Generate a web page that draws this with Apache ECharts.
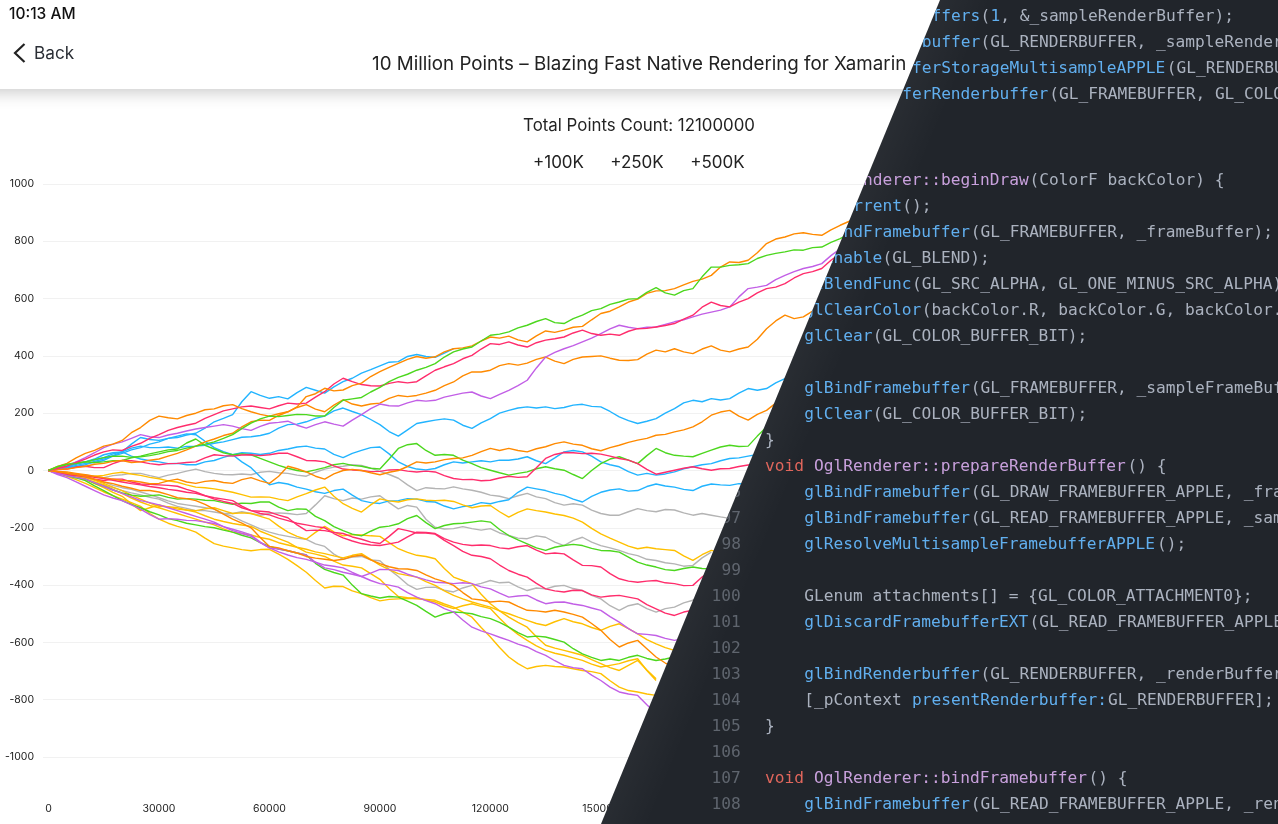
<!DOCTYPE html>
<html><head><meta charset="utf-8">
<style>html,body{margin:0;padding:0;background:#fff}#c{width:1278px;height:824px}</style>
<script src="https://cdn.jsdelivr.net/npm/echarts@6/dist/echarts.min.js"></script>
</head><body><div id="c"></div>
<script>
const xValues = [0,2500,5000,7500,10000,12500,15000,17500,20000,22500,25000,27500,30000,32500,35000,37500,40000,42500,45000,47500,50000,52500,55000,57500,60000,62500,65000,67500,70000,72500,75000,77500,80000,82500,85000,87500,90000,92500,95000,97500,100000,102500,105000,107500,110000,112500,115000,117500,120000,122500,125000,127500,130000,132500,135000,137500,140000,142500,145000,147500,150000,152500,155000,157500,160000,162500,165000,167500,170000,172500,175000,177500,180000,182500,185000,187500,190000,192500,195000,197500,200000,202500,205000,207500,210000,212500,215000,217500,220000];
const xTickLabels = [0,30000,60000,90000,120000,150000];

const blueTop = [0,6,10,14,20,32,40,52,65,92,115,108,105,112,115,124,130,148,170,182,195,240,275,262,252,258,250,272,290,280,270,292,310,322,340,352,365,378,380,398,405,398,395,410,425];
const blueUp = [0,8,12,22,30,40,55,62,65,78,85,80,80,82,78,84,85,88,95,100,108,116,118,122,130,148,160,162,170,182,190,208,218,206,195,178,160,136,120,142,164,170,176,180,176,158,147,166,181,200,210,218,222,218,222,216,220,228,231,224,222,206,187,174,164,172,181,200,216,236,245,240,251,246,251,270,286,280,286,306,321,328,338,350,360];
const blueMid = [0,10,15,24,30,36,45,58,65,50,40,34,30,24,25,20,20,30,35,46,55,62,60,56,60,70,75,82,85,78,75,56,45,60,70,80,82,58,30,14,5,2,7,20,30,26,30,34,30,36,36,40,48,34,24,44,65,70,65,50,30,20,13,-4,-16,-10,-16,-12,-5,6,13,20,24,34,42,44,50,56,59,66,71];
const blueLow = [0,6,10,18,25,28,35,50,60,72,80,92,100,112,120,128,125,102,80,66,55,30,10,-22,-50,-42,-47,-58,-65,-74,-80,-70,-65,-86,-105,-112,-115,-106,-105,-98,-100,-108,-110,-124,-134,-126,-122,-112,-116,-108,-102,-76,-58,-64,-70,-80,-87,-100,-110,-90,-76,-68,-64,-72,-70,-56,-47,-54,-58,-66,-70,-55,-47,-50,-52,-46,-47];
const gray1 = [0,-6,-10,-14,-15,-22,-25,-18,-15,-10,-10,-18,-25,-16,-10,-2,5,-4,-10,-14,-15,-12,-15,-6,-3,-8,-10,-16,-20,-6,5,12,15,20,18,8,-3,-14,-27,-50,-70,-60,-63,-64,-57,-64,-69,-76,-86,-90,-98,-88,-80,-92,-98,-112,-121,-116,-121,-138,-150,-156,-156,-144,-133,-140,-144,-136,-138,-148,-156,-150,-156,-162,-167,-160,-160];
const gray2 = [0,-8,-15,-22,-30,-42,-50,-60,-70,-78,-85,-94,-100,-114,-125,-132,-140,-140,-145,-150,-150,-144,-150,-156,-150,-148,-150,-154,-150,-120,-88,-98,-105,-96,-100,-92,-88,-112,-134,-122,-128,-170,-198,-204,-203,-196,-203,-208,-203,-218,-227,-236,-238,-228,-233,-250,-262,-244,-233,-250,-262,-270,-279,-290,-297,-310,-314,-322,-326,-334,-331,-305,-285];
const gray3 = [0,-6,-12,-20,-25,-32,-40,-52,-60,-66,-75,-84,-95,-106,-115,-120,-125,-130,-135,-150,-160,-176,-190,-204,-215,-224,-230,-236,-240,-256,-265,-292,-310,-302,-300,-312,-315,-345,-370,-398,-415,-408,-407,-418,-424,-410,-401,-394,-384,-392,-390,-406,-419,-410,-413,-404,-401,-412,-419,-436,-448,-472,-488,-472,-465,-482,-494,-482,-477,-462,-453,-428,-407];
const orangeTop = [0,14,25,44,60,70,85,92,105,132,150,175,190,184,180,192,200,212,215,226,230,216,205,196,190,198,205,222,258,268,287,278,281,296,305,328,345,360,374,388,398,392,397,414,425,428,435,452,466,462,469,456,449,470,487,482,490,500,503,526,548,556,571,588,598,618,627,628,635,648,660,668,681,710,728,726,734,760,792,808,815,826,830,824,821,840,856,870,885];
const orangeUp = [0,3,5,10,15,22,25,32,35,28,30,36,40,50,60,72,85,100,110,122,130,152,170,176,175,192,205,220,230,214,205,228,247,232,225,232,235,252,262,258,262,270,280,296,309,330,344,344,350,366,373,368,375,388,396,382,373,388,396,398,400,392,385,384,387,406,420,414,425,414,408,424,435,420,414,424,431,458,495,522,542,530,536,556,571,584,600];
const orangeMid = [0,-3,-5,-10,-15,-20,-25,-30,-35,-36,-40,-46,-45,-36,-30,-40,-45,-38,-35,-42,-45,-32,-25,-36,-45,-20,15,6,-5,-20,-30,-12,0,4,0,-8,-15,-6,0,14,30,26,30,38,42,44,53,66,77,70,77,70,65,76,83,94,100,92,88,76,69,80,88,98,106,112,123,126,135,142,152,170,193,204,210,190,176,196,210,235,260];
const orangeLow = [0,-5,-10,-14,-20,-30,-40,-46,-55,-62,-70,-70,-75,-84,-95,-98,-105,-118,-135,-152,-170,-184,-200,-234,-265,-270,-280,-288,-300,-306,-310,-314,-310,-300,-295,-312,-325,-336,-343,-344,-349,-364,-378,-388,-401,-426,-448,-452,-459,-456,-459,-474,-488,-490,-494,-488,-494,-502,-512,-534,-558,-590,-616,-602,-593,-622,-651,-672,-686];
const greenTop = [0,14,22,24,30,38,45,50,50,46,48,52,58,66,70,78,85,92,100,112,125,146,165,180,190,188,192,196,195,190,190,220,245,250,255,274,290,310,325,336,350,360,373,396,414,424,431,452,472,476,484,498,507,520,530,516,513,530,542,558,565,580,588,598,600,622,638,620,612,628,635,676,710,710,716,718,722,740,751,758,763,770,769,778,780,796,809,826,845];
const greenMid = [0,12,20,28,30,28,30,34,35,44,50,58,65,72,75,96,110,88,75,62,55,58,55,42,30,18,8,0,-5,2,10,20,25,18,15,8,5,40,77,90,94,70,53,56,53,36,24,10,1,-8,-16,-10,-5,6,13,6,1,-14,-28,0,24,40,48,36,24,52,77,62,53,50,48,60,71,82,88,84,85,120,152,172,190];
const greenLow = [0,-8,-15,-24,-30,-44,-55,-68,-78,-86,-90,-88,-85,-94,-100,-98,-100,-104,-105,-112,-118,-114,-115,-110,-110,-128,-140,-134,-135,-160,-175,-196,-210,-222,-228,-212,-198,-194,-186,-168,-157,-182,-203,-192,-186,-184,-180,-176,-180,-206,-227,-242,-256,-270,-279,-268,-262,-258,-262,-272,-279,-280,-285,-302,-320,-330,-337,-346,-349,-342,-337,-342,-343];
const greenBot = [0,-10,-18,-26,-35,-54,-70,-88,-105,-118,-130,-144,-155,-168,-175,-184,-190,-196,-200,-208,-215,-226,-235,-252,-265,-274,-280,-288,-295,-324,-345,-356,-365,-400,-430,-438,-445,-440,-442,-456,-471,-492,-512,-500,-494,-496,-500,-510,-517,-530,-547,-566,-581,-578,-581,-590,-599,-622,-640,-652,-663,-658,-663,-652,-645,-656,-663,-658,-651];
const pinkTop = [0,8,15,28,40,54,65,72,70,84,95,112,125,140,150,158,165,182,195,208,215,222,225,220,215,226,235,232,235,256,275,302,322,310,300,296,295,304,310,306,310,330,350,362,373,390,402,424,443,440,449,438,431,446,455,460,466,480,490,478,472,476,472,486,495,496,501,506,513,528,542,570,588,576,571,588,600,620,635,640,652,672,687,694,705,734,757,775,790];
const pinkMid = [0,3,5,12,15,10,10,24,35,34,30,24,20,24,25,28,30,44,55,52,50,54,55,52,55,60,60,48,35,34,30,16,5,2,0,-4,-3,2,3,-2,-5,-2,-5,-18,-28,-32,-31,-36,-34,-26,-20,-24,-22,10,42,56,63,62,59,60,57,50,42,36,24,4,-13,-6,1,8,13,6,1,6,7,14,19,22,24,32,40];
const pinkA = [0,-8,-15,-18,-22,-30,-35,-30,-30,-40,-47,-48,-50,-52,-55,-66,-75,-88,-100,-108,-115,-130,-140,-142,-145,-156,-165,-190,-210,-208,-210,-216,-220,-232,-240,-250,-255,-230,-203,-210,-218,-218,-222,-244,-262,-282,-296,-300,-308,-330,-349,-362,-372,-394,-413,-420,-424,-418,-419,-434,-442,-438,-436,-442,-448,-468,-483,-498,-506,-494,-488,-482,-480];
const pinkB = [0,-5,-10,-14,-18,-24,-28,-34,-40,-46,-50,-56,-60,-66,-70,-76,-80,-88,-95,-100,-105,-124,-140,-150,-155,-166,-175,-184,-190,-196,-200,-220,-235,-246,-255,-260,-262,-256,-250,-232,-215,-216,-220,-238,-250,-258,-262,-260,-262,-270,-273,-266,-262,-278,-291,-288,-291,-312,-331,-332,-337,-360,-378,-386,-390,-386,-384,-392,-395,-402,-401,-372,-349];
const purpleTop = [0,8,15,30,45,62,80,92,100,112,125,118,115,124,130,138,145,150,155,160,155,146,140,154,165,168,172,158,148,160,170,162,155,176,195,216,232,226,225,236,245,242,245,256,263,270,274,260,251,266,280,296,315,358,396,412,425,436,449,462,478,494,507,500,495,500,501,510,519,526,536,546,553,560,571,606,635,640,646,666,681,694,705,712,722,750,774,788,800];
const purpleUp = [0,-10,-18,-24,-30,-42,-55,-68,-80,-92,-105,-112,-120,-130,-140,-150,-160,-170,-180,-196,-210,-220,-230,-252,-270,-284,-295,-304,-310,-320,-330,-334,-340,-356,-370,-358,-345,-346,-349,-362,-372,-382,-390,-392,-395,-392,-395,-406,-413,-428,-442,-438,-436,-452,-465,-460,-459,-466,-471,-480,-488,-510,-529,-552,-570,-572,-576,-586,-593,-586,-581];
const purpleLow = [0,-14,-25,-40,-55,-70,-85,-96,-105,-120,-135,-154,-170,-168,-170,-174,-175,-180,-185,-196,-205,-214,-225,-250,-270,-274,-280,-288,-295,-320,-340,-346,-355,-362,-370,-384,-395,-400,-407,-426,-442,-454,-465,-482,-494,-522,-547,-560,-570,-582,-593,-606,-616,-632,-645,-664,-680,-688,-692,-714,-733,-756,-773,-780,-785,-818,-849];
const yellowTop = [0,-8,-17,-20,-23,-20,-17,-10,-6,-12,-17,-24,-29,-36,-41,-50,-58,-60,-64,-70,-76,-84,-93,-92,-93,-100,-105,-92,-81,-68,-58,-90,-116,-132,-145,-120,-99,-106,-110,-102,-99,-104,-105,-104,-108,-120,-130,-124,-122,-144,-163,-146,-134,-140,-145,-152,-157,-166,-180,-202,-221,-236,-250,-264,-273,-268,-273,-276,-279,-298,-314,-294,-279,-286,-290];
const yellow2 = [0,-6,-12,-22,-30,-46,-60,-76,-90,-116,-140,-130,-120,-128,-135,-138,-140,-134,-130,-140,-150,-148,-150,-160,-170,-194,-215,-230,-240,-216,-195,-214,-228,-224,-225,-228,-230,-252,-273,-286,-296,-300,-308,-342,-372,-384,-395,-432,-465,-490,-512,-530,-547,-580,-610,-620,-628,-636,-645,-660,-674,-688,-698,-680,-663,-696,-727];
const yellow3 = [0,-8,-15,-22,-30,-40,-50,-66,-80,-96,-110,-122,-130,-140,-150,-160,-170,-180,-190,-204,-215,-220,-225,-234,-240,-252,-260,-268,-275,-284,-290,-298,-305,-296,-290,-310,-330,-346,-360,-366,-372,-388,-401,-420,-436,-448,-459,-468,-477,-490,-500,-512,-523,-534,-541,-528,-517,-528,-535,-548,-558,-544,-535,-552,-570,-590,-605,-618,-628];
const yellow4 = [0,-10,-20,-32,-45,-60,-75,-88,-100,-112,-125,-150,-170,-184,-195,-204,-215,-236,-255,-264,-270,-276,-280,-276,-275,-292,-310,-332,-355,-384,-410,-404,-405,-420,-430,-444,-455,-450,-448,-446,-448,-450,-453,-466,-477,-494,-512,-548,-581,-618,-651,-674,-692,-684,-680,-684,-686,-692,-698,-702,-709,-734,-756,-768,-773,-780,-785];
const yellow5 = [0,-4,-8,-16,-25,-34,-45,-58,-70,-86,-100,-114,-125,-126,-130,-138,-145,-158,-170,-178,-185,-190,-195,-212,-225,-238,-250,-268,-285,-292,-300,-316,-330,-334,-340,-360,-380,-412,-440,-444,-445,-452,-459,-472,-482,-472,-465,-474,-482,-516,-547,-572,-593,-612,-628,-638,-645,-654,-663,-676,-686,-680,-674,-664,-657,-698,-733];

const BLUE='#22b4ff',GRAY='#b4b4b4',ORANGE='#ff8a00',GREEN='#4cd71e',PINK='#ff2d6c',PURPLE='#c25fe6',YELLOW='#ffc000';
const lines = [
 [blueTop,BLUE],[gray1,GRAY],[gray2,GRAY],[gray3,GRAY],[blueUp,BLUE],[blueMid,BLUE],[blueLow,BLUE],
 [yellowTop,YELLOW],[yellow2,YELLOW],[yellow3,YELLOW],[yellow4,YELLOW],[yellow5,YELLOW],
 [greenLow,GREEN],[greenBot,GREEN],[greenMid,GREEN],[pinkMid,PINK],[pinkA,PINK],[pinkB,PINK],
 [purpleUp,PURPLE],[purpleLow,PURPLE],[orangeMid,ORANGE],[orangeLow,ORANGE],[orangeUp,ORANGE],
 [purpleTop,PURPLE],[pinkTop,PINK],[orangeTop,ORANGE],[greenTop,GREEN]
];

const titleText = '10 Million Points \u2013 Blazing Fast Native Rendering for Xamarin';
const countText = 'Total Points Count: 12100000';

const B='#61afef',T='#abb2bf',R='#e0665c',P='#c8a0dc',N='#5f656e';
const codeLines = [
 [15,4,[[B,'glGenRenderbuffers'],[T,'('],[B,'1'],[T,', &_sampleRenderBuffer);']]],
 [41,4,[[B,'glBindRenderbuffer'],[T,'(GL_RENDERBUFFER, _sampleRenderBuffer);']]],
 [67,4,[[B,'glRenderbufferStorageMultisampleAPPLE'],[T,'(GL_RENDERBUFFER, _samples);']]],
 [93,4,[[B,'glFramebufferRenderbuffer'],[T,'(GL_FRAMEBUFFER, GL_COLOR_ATTACHMENT0);']]],
 [179,0,[[R,'void '],[P,'OglRenderer::beginDraw'],[T,'(ColorF backColor) {']]],
 [205,4,[[B,'setCurrent'],[T,'();']]],
 [231,4,[[B,'glBindFramebuffer'],[T,'(GL_FRAMEBUFFER, _frameBuffer);']]],
 [257,4,[[B,'glEnable'],[T,'(GL_BLEND);']]],
 [283,4,[[B,'glBlendFunc'],[T,'(GL_SRC_ALPHA, GL_ONE_MINUS_SRC_ALPHA);']]],
 [309,4,[[B,'glClearColor'],[T,'(backColor.R, backColor.G, backColor.B, backColor.A);']]],
 [335,4,[[B,'glClear'],[T,'(GL_COLOR_BUFFER_BIT);']]],
 [387,4,[[B,'glBindFramebuffer'],[T,'(GL_FRAMEBUFFER, _sampleFrameBuffer);']]],
 [413,4,[[B,'glClear'],[T,'(GL_COLOR_BUFFER_BIT);']]],
 [439,0,[[T,'}']]],
 [465,0,[[R,'void '],[P,'OglRenderer::prepareRenderBuffer'],[T,'() {']]],
 [491,4,[[B,'glBindFramebuffer'],[T,'(GL_DRAW_FRAMEBUFFER_APPLE, _frameBuffer);']]],
 [517,4,[[B,'glBindFramebuffer'],[T,'(GL_READ_FRAMEBUFFER_APPLE, _sampleFrameBuffer);']]],
 [543,4,[[B,'glResolveMultisampleFramebufferAPPLE'],[T,'();']]],
 [595,4,[[T,'GLenum attachments[] = {GL_COLOR_ATTACHMENT0};']]],
 [621,4,[[B,'glDiscardFramebufferEXT'],[T,'(GL_READ_FRAMEBUFFER_APPLE, 1, attachments);']]],
 [673,4,[[B,'glBindRenderbuffer'],[T,'(GL_RENDERBUFFER, _renderBuffer);']]],
 [699,4,[[T,'[_pContext '],[B,'presentRenderbuffer:'],[T,'GL_RENDERBUFFER];']]],
 [725,0,[[T,'}']]],
 [777,0,[[R,'void '],[P,'OglRenderer::bindFramebuffer'],[T,'() {']]],
 [803,4,[[B,'glBindFramebuffer'],[T,'(GL_READ_FRAMEBUFFER_APPLE, _renderFrameBuffer);']]]
];
const lineNumbers = [[491,'96'],[517,'97'],[543,'98'],[569,'99'],[595,'100'],[621,'101'],[647,'102'],[673,'103'],[699,'104'],[725,'105'],[751,'106'],[777,'107'],[803,'108']];

const CH=9.8, X0=765, MONO='"DejaVu Sans Mono", monospace', CODE=16.2, DY=2;
const edgeAt = y => 940 - 0.4114*y;
const panel = [[940,0],[1278,0],[1278,824],[601,824]];
const g = [];
g.push({type:'rect',z:1,shape:{x:-20,y:-20,width:1320,height:109},style:{fill:'#fff',shadowBlur:16,shadowColor:'rgba(0,0,0,0.22)',shadowOffsetY:3}});
g.push({type:'text',z:7,style:{x:9,y:14,text:'10:13 AM',fill:'#111',font:'500 15.5px Inter, sans-serif',textVerticalAlign:'middle'}});
g.push({type:'polyline',z:7,shape:{points:[[24.5,44],[15,53],[24.5,62]]},style:{stroke:'#222',lineWidth:2.2,fill:null}});
g.push({type:'text',z:7,style:{x:34,y:54,text:'Back',fill:'#2b2f36',font:'17.2px Inter, sans-serif',textVerticalAlign:'middle'}});
g.push({type:'text',z:7,style:{x:639,y:126,text:countText,fill:'#222',font:'16.85px Inter, sans-serif',textAlign:'center',textVerticalAlign:'middle'}});
[['+100K',558.5],['+250K',637],['+500K',717.5]].forEach(a=>g.push({type:'text',z:7,style:{x:a[1],y:163,text:a[0],fill:'#222',font:'17px Inter, sans-serif',textAlign:'center',textVerticalAlign:'middle'}}));
g.push({type:'polygon',z:100,shape:{points:panel},style:{fill:'#21252b'}});
g.push({type:'polygon',z:101,shape:{points:[[940,0],[1000,0],[661,824],[601,824]]},style:{fill:new echarts.graphic.LinearGradient(601,824,642,841,[{offset:0,color:'rgba(255,255,255,0.035)'},{offset:1,color:'rgba(255,255,255,0)'}],true)}});
function addRun(y,col,txt,color){
  let s='',start=null;
  for(let i=0;i<txt.length;i++){
    const x=X0+(col+i)*CH;
    if(x>=edgeAt(y)-11 && x<1278){ if(start===null) start=col+i; s+=txt[i]; }
  }
  if(s.trim().length) g.push({type:'text',z:102,style:{x:X0+start*CH,y:y+DY,text:s,fill:color,font:CODE+'px '+MONO,textVerticalAlign:'middle'}});
}
codeLines.forEach(l=>{let c=l[1];l[2].forEach(p=>{addRun(l[0],c,p[1],p[0]);c+=p[1].length;});});
lineNumbers.forEach(n=>{
  const startX=741-n[1].length*CH; let s='',sx=null;
  for(let i=0;i<n[1].length;i++){const x=startX+i*CH; if(x>=edgeAt(n[0])-11){if(sx===null)sx=x;s+=n[1][i];}}
  if(s) g.push({type:'text',z:102,style:{x:sx,y:n[0]+DY,text:s,fill:N,font:CODE+'px '+MONO,textVerticalAlign:'middle'}});
});

const chart = echarts.init(document.getElementById('c'),null,{renderer:'canvas',width:1278,height:824});
chart.setOption({
  animation:false,
  backgroundColor:'#fff',
  title:{text:titleText,left:367,top:50,z:7,textStyle:{fontFamily:'Inter, sans-serif',fontWeight:'normal',fontSize:18.75,color:'#222'}},
  grid:{left:43,right:401,top:184,bottom:67,containLabel:false},
  xAxis:{type:'value',min:-1500,max:225000,splitLine:{show:false},axisLine:{show:false},axisTick:{show:false},
    axisLabel:{customValues:xTickLabels,formatter:v=>String(v),margin:46,fontSize:10.5,color:'#222',fontFamily:'Inter, sans-serif'}},
  yAxis:{type:'value',min:-1000,max:1000,interval:200,axisLine:{show:false},axisTick:{show:false},
    splitLine:{lineStyle:{color:'#f1f1f1',width:1}},
    axisLabel:{formatter:v=>String(v),margin:9,fontSize:10.5,color:'#222',fontFamily:'Inter, sans-serif'}},
  series:lines.map(l=>({type:'line',showSymbol:false,silent:true,smooth:false,
    lineStyle:{color:l[1],width:1.4},itemStyle:{color:l[1]},
    data:l[0].map((v,i)=>[xValues[i],v])})),
  graphic:{elements:g}
});
// cut the code text at the panel's slanted edge
const zr = chart.getZr();
zr.storage.getRoots().forEach(root=>{
  const visit = el=>{
    if(el.isGroup){ el.children().forEach(visit); return; }
    if(el.z===102 && el.style && el.style.text){ el.setClipPath(new echarts.graphic.Polygon({shape:{points:panel}})); }
  };
  visit(root);
});
zr.refresh();
</script></body></html>
